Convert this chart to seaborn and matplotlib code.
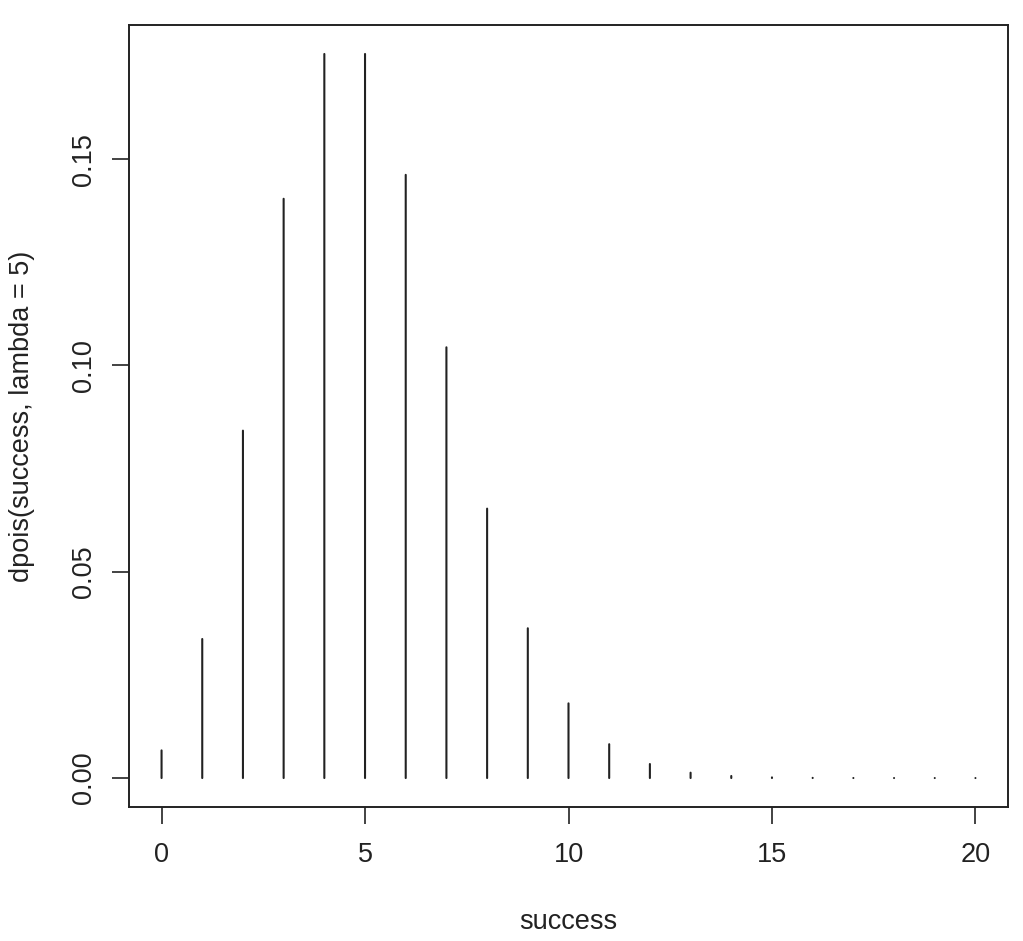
import numpy as np
import pandas as pd
import matplotlib
matplotlib.use("Agg")
import matplotlib.pyplot as plt
import seaborn as sns

success = list(range(0, 21))
density = [0.0067, 0.0337, 0.0842, 0.1404, 0.1755, 0.1755, 0.1462, 0.1044,
           0.0653, 0.0363, 0.0181, 0.0082, 0.0034, 0.0013, 0.0005, 0.00016,
           0.00005, 0.000014, 0.0000036, 0.0000009, 0.0000002]
x_ticks = [0, 5, 10, 15, 20]
y_ticks = [0.00, 0.05, 0.10, 0.15]
y_tick_labels = ["0.00", "0.05", "0.10", "0.15"]

df = pd.DataFrame({"success": success, "density": density})

sns.set_style("ticks")
plt.rcParams["font.family"] = ["Liberation Sans", "DejaVu Sans"]

fig = plt.figure(figsize=(10.23, 9.41), dpi=100)
ax = fig.add_axes([129 / 1023, 1 - 807 / 941, (1008 - 129) / 1023, (807 - 25) / 941])

lc = ax.vlines(df["success"], 0, df["density"], colors="#222222", linewidth=1.5)
lc.set_capstyle("round")
lc.set_snap(False)

xmin, xmax = min(success), max(success)
ymin, ymax = 0, max(density)
ax.set_xlim(xmin - 0.04 * (xmax - xmin), xmax + 0.04 * (xmax - xmin))
ax.set_ylim(ymin - 0.04 * (ymax - ymin), ymax + 0.04 * (ymax - ymin))

ax.set_xticks(x_ticks)
ax.set_xticklabels([str(v) for v in x_ticks])
ax.set_yticks(y_ticks)
ax.set_yticklabels(y_tick_labels, rotation=90, va="center")

for s in ax.spines.values():
    s.set_visible(True)
    s.set_color("#222222")
    s.set_linewidth(1.4)

fs = 19.5
ax.tick_params(axis="both", length=12, width=1.2, color="#222222",
               labelsize=fs, labelcolor="#222222", direction="out")
ax.tick_params(axis="x", pad=13)
ax.tick_params(axis="y", pad=11)

ax.set_xlabel("success", fontsize=fs, color="#222222", labelpad=30)
ax.set_ylabel("dpois(success, lambda = 5)", fontsize=fs, color="#222222", labelpad=26)

fig.savefig("out.png", dpi=100, facecolor="white")
